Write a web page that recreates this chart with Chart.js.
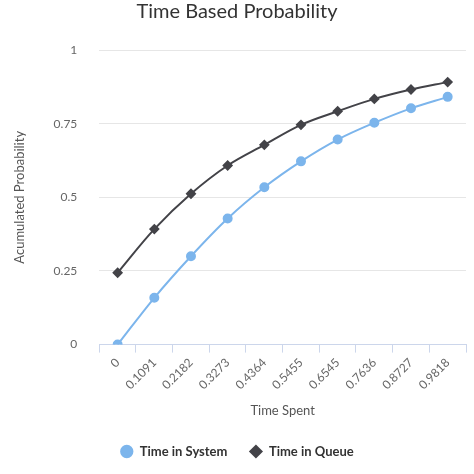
<!DOCTYPE html>
<html>
<head>
<meta charset="utf-8">
<script src="https://cdn.jsdelivr.net/npm/chart.js@4/dist/chart.umd.min.js"></script>
<style>
  html, body { margin: 0; padding: 0; background: #fff; }
  #wrap { width: 474px; height: 474px; position: relative; }
</style>
</head>
<body>
<div id="wrap"><canvas id="chart"></canvas></div>
<script>
const timeLabels = ['0', '0.1091', '0.2182', '0.3273', '0.4364', '0.5455', '0.6545', '0.7636', '0.8727', '0.9818'];
const timeInSystem = [0, 0.159, 0.30, 0.428, 0.534, 0.622, 0.696, 0.753, 0.802, 0.841];
const timeInQueue = [0.244, 0.392, 0.512, 0.608, 0.678, 0.746, 0.792, 0.834, 0.866, 0.891];
const yTicks = [0, 0.25, 0.5, 0.75, 1];

const ctx = document.getElementById('chart').getContext('2d');
new Chart(ctx, {
    type: 'line',
    data: {
        labels: timeLabels,
        datasets: [{
            label: 'Time in System',
            data: timeInSystem,
            borderColor: '#7cb5ec',
            backgroundColor: '#7cb5ec',
            borderWidth: 2,
            tension: 0.35,
            pointStyle: 'circle',
            pointRadius: 4
        }, {
            label: 'Time in Queue',
            data: timeInQueue,
            borderColor: '#434348',
            backgroundColor: '#434348',
            borderWidth: 2,
            tension: 0.35,
            pointStyle: 'rectRot',
            pointRadius: 4
        }]
    },
    options: {
        responsive: true,
        maintainAspectRatio: false,
        animation: false,
        layout: { padding: { left: 8, right: 8, top: 0, bottom: 6 } },
        plugins: {
            title: {
                display: true,
                text: 'Time Based Probability',
                color: '#333',
                font: { family: 'Lato', size: 20, weight: 'normal' },
                padding: { top: 0, bottom: 26 }
            },
            legend: {
                position: 'bottom',
                labels: {
                    usePointStyle: true,
                    boxHeight: 8,
                    color: '#333',
                    font: { family: 'Lato', size: 13, weight: 'bold' },
                    padding: 22
                }
            },
            tooltip: { enabled: false }
        },
        scales: {
            x: {
                offset: true,
                grid: { display: true, drawOnChartArea: false, offset: true, color: '#ccd6eb', tickLength: 8 },
                border: { color: '#ccd6eb' },
                ticks: { color: '#666', maxRotation: 45, minRotation: 45, font: { family: 'Lato', size: 12 } },
                title: { display: true, text: 'Time Spent', color: '#555', font: { family: 'Lato', size: 13 }, padding: { top: 8 } }
            },
            y: {
                min: 0,
                max: 1,
                afterBuildTicks: axis => { axis.ticks = yTicks.map(v => ({ value: v })); },
                grid: { color: '#e6e6e6', drawTicks: false },
                border: { display: false },
                ticks: { color: '#666', padding: 22, font: { family: 'Lato', size: 12 }, callback: v => String(v) },
                title: { display: true, text: 'Acumulated Probability', color: '#555', font: { family: 'Lato', size: 13 } }
            }
        }
    }
});
</script>
</body>
</html>
